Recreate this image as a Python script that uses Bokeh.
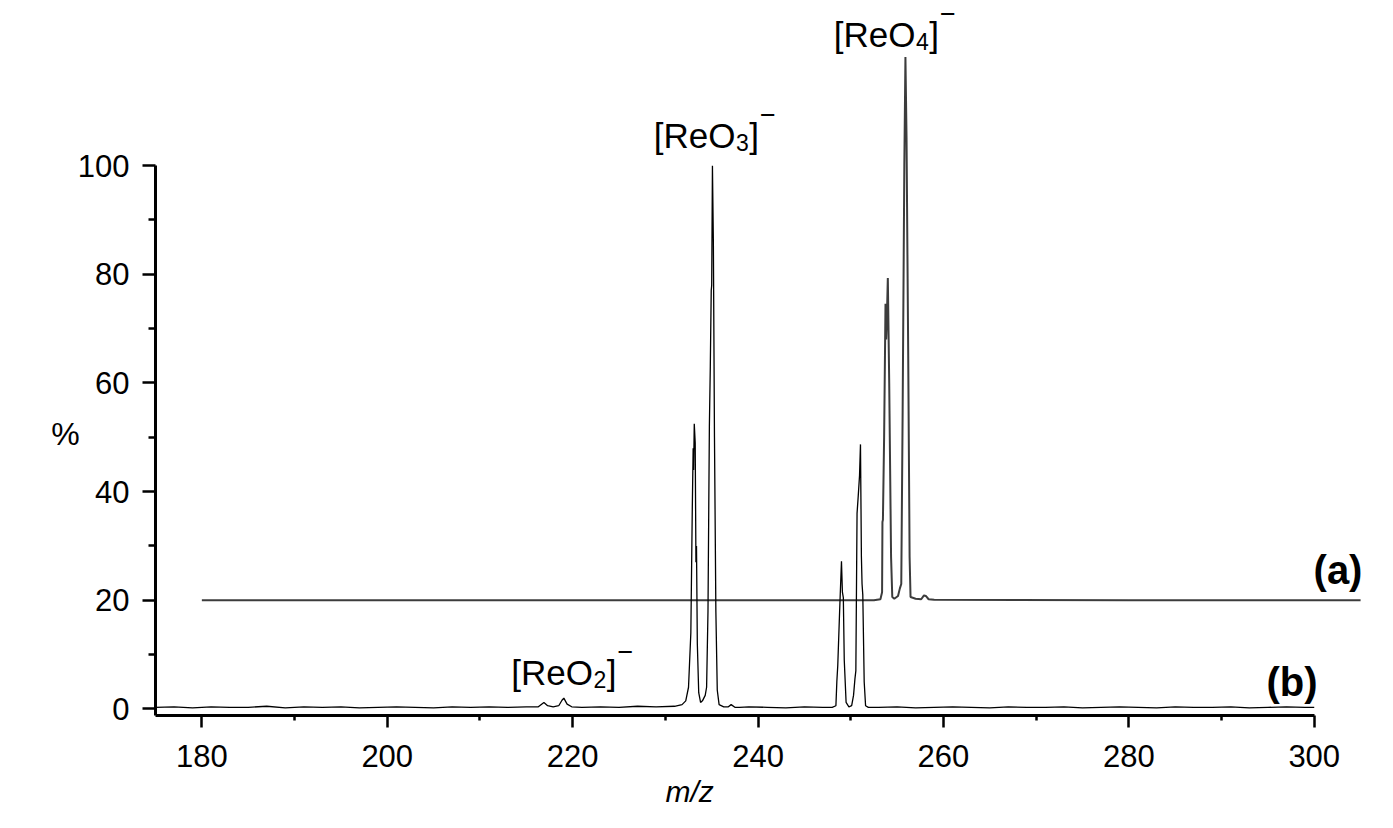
from bokeh.plotting import figure
from bokeh.models import Range1d, FixedTicker, Label, Title
from bokeh.embed import file_html
from bokeh.resources import INLINE

# ---------------- data ----------------
# trace (b): baseline readings (m/z, %)
B_BASE_MZ = [175, 177, 179, 181, 183, 185, 187, 189, 191, 193, 195, 197, 199, 201, 203, 205, 207, 209, 211, 213, 215,
             221, 223, 225, 227, 229,
             239, 241, 243, 245, 247,
             253, 255, 257, 259, 261, 263, 265, 267, 269, 271, 273, 275, 277, 279, 281, 283, 285, 287, 289, 291,
             293, 295, 297, 299, 300]
B_BASE_PCT = [0.3, 0.4, 0.2, 0.4, 0.3, 0.3, 0.5, 0.2, 0.4, 0.3, 0.4, 0.2, 0.3, 0.4, 0.3, 0.2, 0.4, 0.3, 0.4, 0.3, 0.4,
              0.3, 0.4, 0.3, 0.5, 0.4,
              0.4, 0.3, 0.2, 0.4, 0.3,
              0.3, 0.4, 0.2, 0.3, 0.4, 0.3, 0.2, 0.4, 0.3, 0.3, 0.4, 0.2, 0.3, 0.4, 0.3, 0.2, 0.4, 0.3, 0.3, 0.4,
              0.2, 0.3, 0.4, 0.3, 0.3]
# trace (b): peak regions [ReO2]-, [ReO3]-, [ReO4]-
B_PEAK_MZ = [216.3, 216.9, 217.3, 217.9, 218.5, 218.85, 219.05, 219.4, 219.9,
             231.0, 231.8, 232.2, 232.5, 232.75, 232.9, 233.0, 233.05, 233.12, 233.22, 233.3, 233.36, 233.45,
             233.6, 233.8, 234.0, 234.3, 234.45, 234.6, 234.75, 234.85, 234.95, 235.0, 235.08, 235.18, 235.3,
             235.45, 235.6, 235.8, 236.3, 236.8, 237.1, 237.5, 238.0,
             248.0, 248.4, 248.5, 248.6, 248.8, 249.0, 249.1, 249.2, 249.3, 249.5, 249.8, 250.1, 250.3, 250.45,
             250.55, 250.68, 250.8, 250.95, 251.05, 251.15, 251.22, 251.3, 251.45, 251.6, 251.9, 252.4]
B_PEAK_PCT = [0.4, 1.2, 0.6, 0.4, 0.6, 1.6, 2.0, 0.9, 0.4,
              0.5, 0.8, 1.5, 4.0, 14.0, 36.0, 48.0, 44.0, 52.5, 49.0, 27.0, 30.0, 12.0,
              3.0, 1.2, 1.5, 2.5, 4.0, 18.0, 52.0, 63.0, 77.0, 78.0, 100.0, 86.0, 50.0,
              18.0, 3.5, 0.8, 0.4, 0.4, 0.8, 0.3, 0.3,
              0.3, 0.6, 5.0, 8.0, 18.0, 27.2, 21.5, 20.5, 9.0, 1.2, 0.4, 0.6, 2.5, 5.5,
              7.0, 36.0, 39.0, 43.0, 48.7, 28.0, 23.0, 21.0, 5.0, 0.6, 0.3, 0.3]

# trace (a): intensities relative to its own baseline, drawn offset by 20 %
A_OFFSET = 20
A_MZ = [180.0, 200.0, 220.0, 240.0, 252.5, 253.2, 253.38, 253.42, 253.47, 253.6, 253.75, 253.82, 253.9, 254.0,
        254.15, 254.35, 254.48, 254.7, 255.1, 255.3, 255.45, 255.6, 255.78, 255.9, 256.02, 256.2, 256.35,
        256.45, 257.0, 257.6, 257.9, 258.1, 258.4, 259.0, 280.0, 305.0]
A_PCT = [0.0, 0.0, 0.0, 0.0, 0.0, 0.2, 1.5, 14.4, 14.8, 30.0, 54.6, 48.0, 52.0, 59.3,
         40.0, 8.0, 0.6, 0.3, 0.8, 2.2, 3.0, 35.0, 80.0, 100.0, 85.0, 45.0, 8.0,
         0.6, 0.3, 0.2, 0.9, 0.8, 0.2, 0.1, 0.0, 0.0]

X_TICKS = [180, 200, 220, 240, 260, 280, 300]
X_MINOR = [190, 210, 230, 250, 270, 290]
Y_TICKS = [0, 20, 40, 60, 80, 100]
Y_MINOR = [10, 30, 50, 70, 90]

# peak labels: (formula stem, subscript, x, y)
PEAK_LABELS = [("[ReO", "2", 213.37, 6.7),
               ("[ReO", "3", 228.75, 105.5),
               ("[ReO", "4", 248.17, 124.2)]

# ---------------- build ----------------
b_pts = sorted(zip(B_BASE_MZ + B_PEAK_MZ, B_BASE_PCT + B_PEAK_PCT))
b_x = [t[0] for t in b_pts]
b_y = [t[1] for t in b_pts]
a_y = [v + A_OFFSET for v in A_PCT]

FONT = "Liberation Sans"

p = figure(width=1385, height=826, output_backend="svg", toolbar_location=None,
           x_range=Range1d(175, 307.04), y_range=Range1d(-1.2, 130.4),
           min_border_left=155, min_border_right=6, min_border_top=0, min_border_bottom=111)
p.outline_line_color = None
p.xgrid.visible = False
p.ygrid.visible = False
p.background_fill_color = "white"

p.line(A_MZ, a_y, line_color="#3c3c3c", line_width=2)
p.line(b_x, b_y, line_color="black", line_width=1.3)

for ax in (p.xaxis[0], p.yaxis[0]):
    ax.axis_line_width = 3
    ax.axis_line_color = "black"
    ax.major_tick_line_width = 2.5
    ax.minor_tick_line_width = 2.5
    ax.major_tick_line_color = "black"
    ax.minor_tick_line_color = "black"
    ax.major_tick_in = 0
    ax.minor_tick_in = 0
    ax.major_label_text_font = FONT
    ax.major_label_text_font_size = "31px"
    ax.major_label_text_color = "black"

p.xaxis[0].ticker = FixedTicker(ticks=X_TICKS, minor_ticks=X_MINOR)
p.xaxis[0].bounds = (175, 300)
p.xaxis[0].major_tick_out = 12
p.xaxis[0].minor_tick_out = 5
p.xaxis[0].major_label_standoff = 17

p.yaxis[0].ticker = FixedTicker(ticks=Y_TICKS, minor_ticks=Y_MINOR)
p.yaxis[0].bounds = (-1.2, 100)
p.yaxis[0].major_tick_out = 13
p.yaxis[0].minor_tick_out = 7
p.yaxis[0].major_label_standoff = 13

# y axis title: horizontal "%" pushed below the frame centre with leading blank lines
p.yaxis[0].axis_label = "\n\n\n\n%"
p.yaxis[0].axis_label_orientation = "horizontal"
p.yaxis[0].axis_label_text_font = FONT
p.yaxis[0].axis_label_text_font_size = "32px"
p.yaxis[0].axis_label_text_line_height = 1.05
p.yaxis[0].axis_label_text_font_style = "normal"
p.yaxis[0].axis_label_text_color = "black"
p.yaxis[0].axis_label_standoff = -5

# x axis title
p.add_layout(Title(text="m/z", text_font=FONT, text_font_size="30px", text_font_style="italic",
                   text_color="black", align="left", offset=510, standoff=6), "below")

# peak labels composed of stem, subscript, bracket and superscript minus
MAIN = 35
SUB = 23
stem_w = (0.278 + 0.722 + 0.556 + 0.778) * MAIN
for stem, sub, lx, ly in PEAK_LABELS:
    p.add_layout(Label(x=lx, y=ly, text=stem, text_font=FONT, text_font_size=f"{MAIN}px",
                       text_color="black", text_baseline="alphabetic"))
    o1 = stem_w + 0.5
    p.add_layout(Label(x=lx, y=ly, x_offset=o1, y_offset=-7, text=sub, text_font=FONT,
                       text_color="black", text_font_size=f"{SUB}px", text_baseline="alphabetic"))
    o2 = o1 + 0.556 * SUB + 0.5
    p.add_layout(Label(x=lx, y=ly, x_offset=o2, text="]", text_font=FONT, text_font_size=f"{MAIN}px",
                       text_color="black", text_baseline="alphabetic"))
    o3 = o2 + 0.278 * MAIN + 1
    p.add_layout(Label(x=lx, y=ly, x_offset=o3, y_offset=21, text="\u2212", text_font=FONT,
                       text_color="black", text_font_size="27px", text_baseline="alphabetic"))

# trace tags
p.add_layout(Label(x=305.2, y=25.6, text="(a)", text_font=FONT, text_font_size="40px",
                   text_color="black", text_font_style="bold", text_align="right",
                   text_baseline="alphabetic"))
p.add_layout(Label(x=300.35, y=4.9, text="(b)", text_font=FONT, text_font_size="40px",
                   text_color="black", text_font_style="bold", text_align="right",
                   text_baseline="alphabetic"))

open("out.html", "w").write(file_html(p, INLINE))
